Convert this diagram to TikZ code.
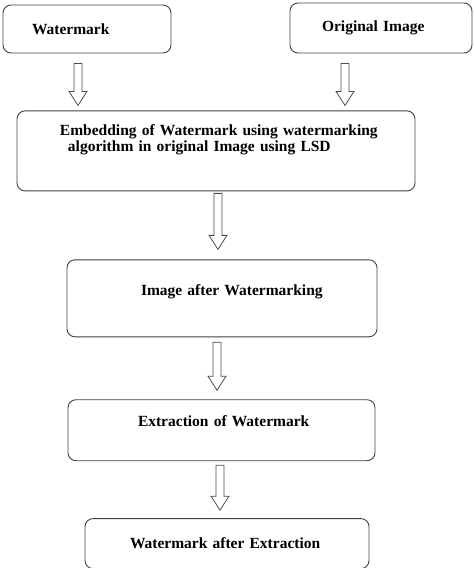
\documentclass[tikz,border=0pt]{standalone}
\usepackage{fontspec}
\setmainfont{Liberation Serif}
\usetikzlibrary{positioning,calc}

\begin{document}
\begin{tikzpicture}[node distance=57pt]
	\tikzstyle{box}=[draw=black!75, line width=0.9pt, rounded corners=8pt, inner xsep=0pt, align=left, font=\bfseries\fontsize{15.5}{13.5}\selectfont]
	\tikzstyle{darr}=[draw=black!70, line width=0.8pt, to path={let \p1=(\tikztostart), \p2=(\tikztotarget) in
		(\x1-4pt,\y1) -- (\x1+4pt,\y1) -- (\x1+4pt,\y2+14pt) -- (\x1+9pt,\y2+14pt) -- (\x1,\y2) -- (\x1-9pt,\y2+14pt) -- (\x1-4pt,\y2+14pt) -- cycle}]
	\useasboundingbox (0,0) rectangle (474pt,-568pt);
	
	\node[box, text width=168pt, minimum height=48pt] (wm) at (87pt,-29pt) {\hspace*{29pt}Watermark};
	\node[box, text width=182pt, minimum height=50pt] (orig) at (381pt,-28pt) {\hspace*{32pt}Original Image};
	\node[box, text width=398pt, minimum height=80pt, text depth=41pt] (emb) [below=of wm, xshift=129pt] {\hspace*{43pt}Embedding of Watermark using watermarking\\\hspace*{51pt}algorithm in original Image using LSD};
	\node[box, text width=310pt, minimum height=77pt, text height=11pt, text depth=16pt] (img) [below=68pt of emb, xshift=6pt] {\hspace*{74pt}Image after Watermarking};
	\node[box, text width=307pt, minimum height=61pt, text height=11pt, text depth=18pt] (ext) [below=62pt of img, xshift=-0.5pt] {\hspace*{70pt}Extraction of Watermark};
	\node[box, text width=284pt, minimum height=50pt] (out) [below=of ext, xshift=5.5pt] {\hspace*{45pt}Watermark after Extraction};
	
	\draw[darr] ([xshift=-9pt,yshift=-10pt]wm.south) to ([yshift=5pt]emb.north);
	\draw[darr] ([xshift=-36pt,yshift=-10pt]orig.south) to ([yshift=5pt]emb.north);
	\draw[darr] ([xshift=2pt,yshift=-2pt]emb.south) to ([yshift=10pt]img.north);
	\draw[darr] ([xshift=-5pt,yshift=-5pt]img.south) to ([yshift=9pt]ext.north);
	\draw[darr] ([xshift=-1.5pt,yshift=-4pt]ext.south) to ([yshift=8pt]out.north);
\end{tikzpicture}
\end{document}
